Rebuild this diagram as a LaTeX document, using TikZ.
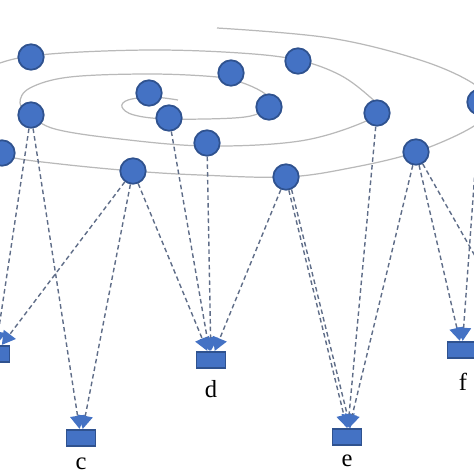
\documentclass[tikz,border=0pt]{standalone}
\usepackage{fontspec}
\setmainfont{Liberation Serif}
\usepackage{tikz}
\usetikzlibrary{arrows.meta}
\definecolor{nodeblue}{HTML}{4472C4}
\definecolor{nodeedge}{HTML}{2F528F}
\definecolor{linkgray}{HTML}{5F6D88}

\begin{document}
\begin{tikzpicture}[x=0.02cm,y=-0.02cm,
    peer/.style={circle,fill=nodeblue,draw=nodeedge,line width=1pt,minimum size=0.51cm,inner sep=0pt},
    host/.style={rectangle,fill=nodeblue,draw=nodeedge,line width=1pt,minimum width=0.58cm,minimum height=0.33cm,inner sep=0pt},
    hostlabel/.style={font=\fontsize{14}{16}\selectfont},
    link/.style={draw=linkgray,line width=0.8pt,dash pattern=on 2.6pt off 1.8pt,
      -{Triangle[length=7.5pt,width=8.5pt,color=nodeblue]}},
    orbit/.style={draw=gray!55,line width=0.7pt}]
        \useasboundingbox (0,0) rectangle (474,474);
        \clip (0,0) rectangle (474,474);
        % spiral
        \draw[orbit] plot[smooth,tension=0.6] coordinates {
          (178,100) (152,97) (128,100) (122,107) (134,115) (168,119)
          (234,118) (260,113) (272,103) (264,93) (243,83) (217,77)
          (150,74) (70,77) (30,88) (20,103) (31,115) (55,129)
          (120,139) (207,146) (300,141) (364,122) (378,108) (370,97)
          (340,75) (298,60) (240,53) (150,50) (50,54) (0,63)
          (-25,80) (-32,115) (-15,146) (10,157) (60,164) (133,171)
          (200,175) (286,177) (350,168) (416,152) (474,126) (489,105)
          (474,84) (420,60) (330,38) (217,28)};
        % peers
        \node[peer] (A) at (31,57) {};
        \node[peer] (B) at (31,115) {};
        \node[peer] (C) at (2,153) {};
        \node[peer] (D) at (149,93) {};
        \node[peer] (E) at (169,118) {};
        \node[peer] (F) at (207,143) {};
        \node[peer] (G) at (133,171) {};
        \node[peer] (H) at (231,73) {};
        \node[peer] (I) at (298,61) {};
        \node[peer] (J) at (269,107) {};
        \node[peer] (K) at (377,113) {};
        \node[peer] (L) at (286,177) {};
        \node[peer] (M) at (416,152) {};
        \node[peer] (N) at (480,102) {};
        % hosts
        \node[host] (a) at (-5,354) {};
        \node[host] (c) at (81,438) {};
        \node[host] (d) at (211,360) {};
        \node[host] (e) at (347,437) {};
        \node[host] (f) at (462,350) {};
        \coordinate (g) at (500,300);
        \node[hostlabel] (lc) at (81,464) {c};
        \node[hostlabel] (ld) at (211,389) {d};
        \node[hostlabel] (le) at (347,461) {e};
        \node[hostlabel] (lf) at (463,382) {f};
        % links
        \draw[link] (B) -- (a);
        \draw[link] (B) -- (c);
        \draw[link] (G) -- (a);
        \draw[link] (G) -- (c);
        \draw[link] (G) -- (d);
        \draw[link] (E) -- (d);
        \draw[link] (F) -- (d);
        \draw[link] (L) -- (d);
        \draw[link] (L.-78) -- (e.north);
        \draw[link] (L.-66) -- ([xshift=2pt]e.north);
        \draw[link] (K) -- (e);
        \draw[link] (M) -- (e);
        \draw[link] (M) -- (f);
        \draw[link] (M) -- (g);
        \draw[link] (N) -- (f);
\end{tikzpicture}
\end{document}
